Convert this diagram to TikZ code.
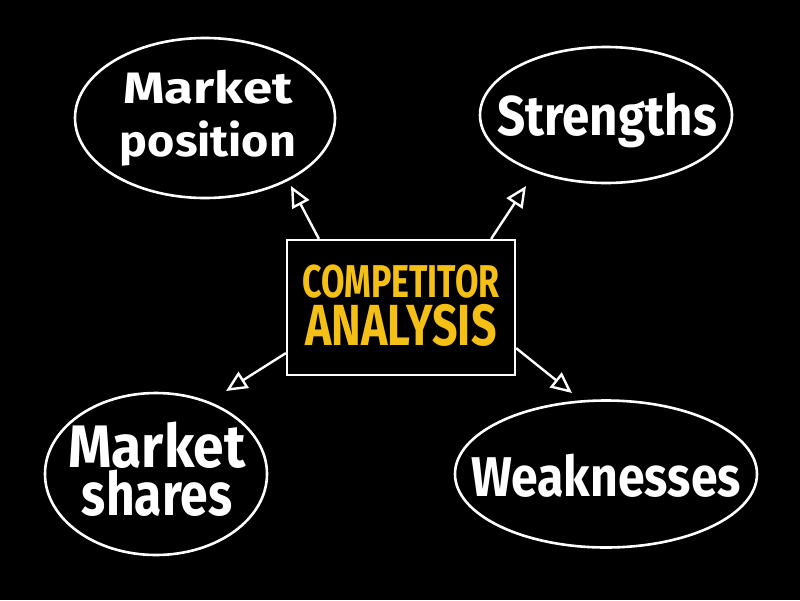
\documentclass[tikz,border=0pt]{standalone}
\usepackage{fontspec}
\setmainfont{Fira Sans}
\usetikzlibrary{shapes.geometric,arrows.meta}
\definecolor{chalkyellow}{RGB}{244,192,22}
\begin{document}
\begin{tikzpicture}[x=1pt,y=-1pt,
  bubble/.style={draw=white,line width=2.6pt,ellipse,inner sep=0pt},
  btext/.style={text=white,align=center,inner sep=0pt},
  central/.style={draw=white,line width=2.2pt,rectangle,inner sep=0pt,minimum width=228pt,minimum height=135pt},
  link/.style={draw=white,line width=2.4pt,-{Triangle[open,length=21pt,width=19pt,line width=2.4pt]}}]
\useasboundingbox[fill=black] (0,0) rectangle (800,600);
% central box
\node[central] (box) at (401,307.5) {};
\node[text=chalkyellow,align=center,inner sep=0pt,font=\bfseries\fontsize{58}{48}\selectfont] (ctext) at (401,306)
  {\scalebox{0.74}[1]{\fontsize{46}{48}\selectfont COMPETITOR}\\\scalebox{0.77}[1]{ANALYSIS}};
% bubbles
\node[bubble,minimum width=260pt,minimum height=160pt] (mp) at (205,118) {};
\node[btext,font=\bfseries\fontsize{44}{53}\selectfont] (mpt) at (208,118) {\scalebox{1.2}[1]{Market}\\\scalebox{1.06}[1]{position}};
\node[bubble,minimum width=252pt,minimum height=136pt] (st) at (606,115) {};
\node[btext,font=\bfseries\fontsize{56}{60}\selectfont] (stt) at (607,120) {\scalebox{0.88}[1]{Strengths}};
\node[bubble,minimum width=222pt,minimum height=162pt] (ms) at (156,474) {};
\node[btext,font=\bfseries\fontsize{60}{43}\selectfont] (mst) at (157,469) {\scalebox{0.92}[1]{Market}\\\scalebox{0.83}[1]{shares}};
\node[bubble,minimum width=302pt,minimum height=147pt] (wk) at (606,474) {};
\node[btext,font=\bfseries\fontsize{56}{60}\selectfont] (wkt) at (606,476) {\scalebox{0.86}[1]{Weaknesses}};
% arrow tip coordinates
\coordinate (t1) at (291,186);
\coordinate (t2) at (526,186);
\coordinate (t3) at (226,391);
\coordinate (t4) at (572,393);
\coordinate (s1) at ([xshift=33pt]box.north west);
\coordinate (s2) at ([xshift=-25pt]box.north east);
\coordinate (s3) at ([yshift=23pt]box.south west);
\coordinate (s4) at ([yshift=28pt]box.south east);
\draw[link] (s1) -- (t1);
\draw[link] (s2) -- (t2);
\draw[link] (s3) -- (t3);
\draw[link] (s4) -- (t4);
\end{tikzpicture}
\end{document}
